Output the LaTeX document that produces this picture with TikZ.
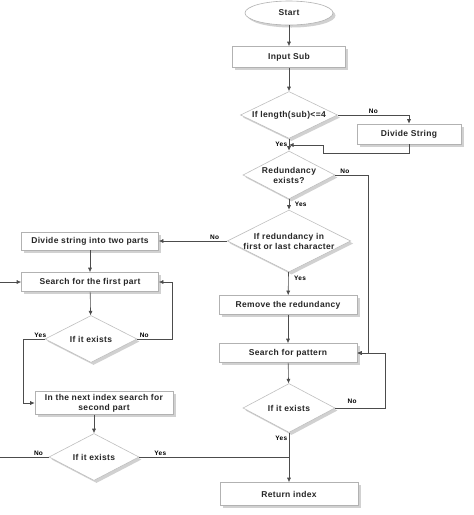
\documentclass[tikz,border=0pt]{standalone}
\usepackage{fontspec}
\newfontfamily\flowfont[LetterSpace=4]{Liberation Sans}
\usetikzlibrary{shapes.geometric,shadows,arrows.meta}

\begin{document}
\begin{tikzpicture}[
  x=1pt,y=-1pt, % pixel grid of the reference
  ->,>={Latex[length=4.5pt,width=4pt]}, % small filled arrow heads
  line width=0.6pt,
  draw=black!70,
  soft shadow/.style={drop shadow={shadow xshift=2.5pt,shadow yshift=-2.5pt,opacity=0.3,fill=black!60}},
  proc node/.style={rectangle,draw=black!30,fill=white,soft shadow,minimum width=138pt,minimum height=19pt,inner sep=1pt,align=center,
    font=\flowfont\bfseries\fontsize{8.5}{10}\selectfont,text=black!85}, % process boxes
  dec node/.style={diamond,aspect=2,draw=black!25,fill=white,soft shadow,inner sep=0pt,align=center,
    font=\flowfont\bfseries\fontsize{8.5}{10}\selectfont,text=black!85}, % decisions
  term node/.style={ellipse,draw=black!30,fill=white,soft shadow,minimum width=88pt,minimum height=24pt,
    font=\flowfont\bfseries\fontsize{8.5}{10}\selectfont,text=black!85}, % start
  lbl/.style={font=\flowfont\bfseries\fontsize{6.5}{7}\selectfont,text=black,inner sep=1.5pt} % yes / no
  ]
  \useasboundingbox (0,0) rectangle (474,515);

  % right column
  \node[term node] (start) at (289,13) {Start};
  \node[proc node,minimum width=113pt,minimum height=21pt] (input) at (289,57) {Input Sub};
  \node[dec node,minimum width=97pt,minimum height=47pt] (len) at (289,115) {If length(sub)<=4};
  \node[proc node,minimum width=104pt,minimum height=20pt] (div) at (409,134) {Divide String};
  \node[dec node,minimum width=92pt,minimum height=48pt] (red) at (289,175) {Redundancy\\exists?};
  \node[dec node,minimum width=120pt,minimum height=62pt] (fl) at (289,241) {If redundancy in\\first or last character};
  \node[proc node] (rem) at (288,305) {Remove the redundancy};
  \node[proc node] (srch) at (288,353) {Search for pattern};
  \node[dec node,minimum width=92pt,minimum height=49pt] (ex3) at (289,408) {If it exists};
  \node[proc node,minimum height=23pt] (ret) at (289,494) {Return index};

  % left column
  \node[proc node,minimum width=137pt,minimum height=18pt] (two) at (90,241) {Divide string into two parts};
  \node[proc node,minimum width=137pt] (first) at (90,282) {Search for the first part};
  \node[dec node,minimum width=92pt,minimum height=47pt] (ex1) at (91,339) {If it exists};
  \node[proc node,minimum width=138pt,minimum height=23pt] (next) at (104,403) {In the next index search for\\second part};
  \node[dec node,minimum width=90pt,minimum height=47pt] (ex2) at (94,457) {If it exists};

  \coordinate (j1) at (289,145);
  \coordinate (m1) at (368,353);
  \coordinate (m2) at (385,353);
  \coordinate (m3) at (172,282);
  \coordinate (m4) at (23,403);
  \coordinate (offl) at (-8,457);

  \draw (start) -- (input);
  \draw (input) -- (len);
  \draw (len) -- node[lbl,left] {Yes} (red);
  \draw (len.east) -| node[lbl,above,pos=0.25] {No} (div.north);
  \draw (div.south) |- (323,153) -- (323,145) -- (j1);
  \draw (red.east) -| node[lbl,above right,pos=0.05] {No} (m1) -- (srch.east);
  \draw (red) -- node[lbl,right,xshift=4pt] {Yes} (fl);
  \draw (fl.west) -- node[lbl,above,pos=0.18] {No} (two.east);
  \draw (fl) -- node[lbl,right,pos=0.25,xshift=4pt] {Yes} (rem);
  \draw (rem) -- (srch);
  \draw (srch) -- (ex3);
  \draw (ex3.east) -| node[lbl,above,pos=0.17,yshift=3pt] {No} (m2) -- (srch.east);
  \draw (ex3) -- node[lbl,left,pos=0.12] {Yes} (ret);

  \draw (two) -- (first);
  \draw (first) -- (ex1);
  \draw (ex1.east) -| node[lbl,above,pos=0.1] {No} (m3) -- (first.east);
  \draw (ex1.west) -| node[lbl,above,pos=0.1] {Yes} (m4) -- (next.west);
  \draw (next.south -| ex2) -- (ex2);
  \draw (ex2.west) -- node[lbl,above,pos=0.18] {No} (offl) |- (first.west);
  \draw[-] (ex2.east) -- node[lbl,above,pos=0.14] {Yes} (ex2.east -| ret);
\end{tikzpicture}
\end{document}
